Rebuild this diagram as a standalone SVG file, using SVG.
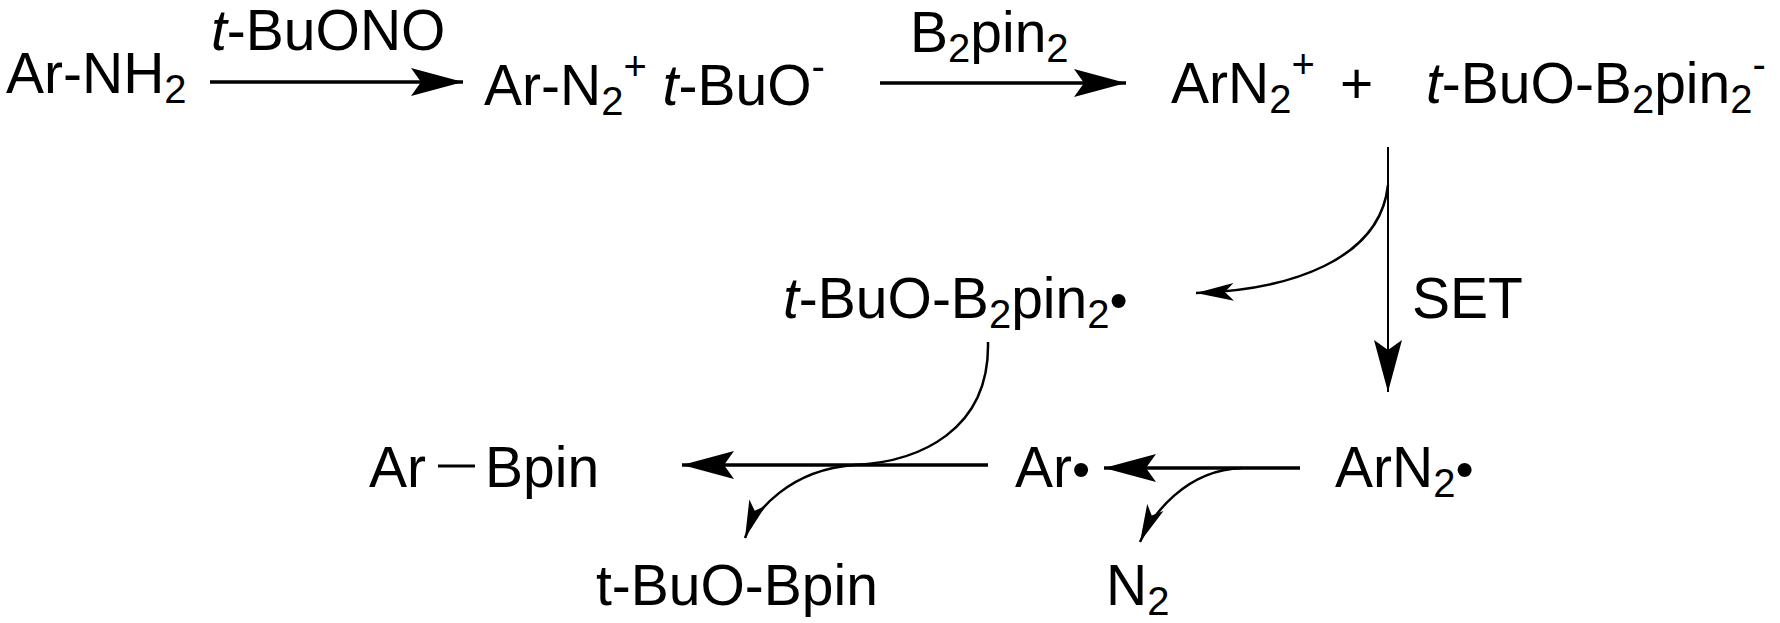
<svg xmlns="http://www.w3.org/2000/svg" width="1780" height="623" viewBox="0 0 1780 623">
<style>
text{font-family:"Liberation Sans",Arial,sans-serif;font-size:57px;fill:#000}
.s{font-size:40px}
.d{font-size:52px}
.i{font-style:italic}
.a{fill:none;stroke:#000;stroke-width:3.5}
.c{fill:none;stroke:#000;stroke-width:2.5}
</style>
<defs>
<marker id="big" markerUnits="userSpaceOnUse" markerWidth="60" markerHeight="30" viewBox="-52 -15 54 30" refX="0" refY="0" orient="auto"><path d="M0,0 L-52,-14 L-42,0 L-52,14 Z" fill="#000"/></marker>
<marker id="sm" markerUnits="userSpaceOnUse" markerWidth="40" markerHeight="20" viewBox="-34 -9 36 18" refX="0" refY="0" orient="auto"><path d="M0,0 L-34,-8 L-26,0 L-34,8 Z" fill="#000"/></marker>
</defs>
<g id="n1"><text x="6" y="93">Ar-NH<tspan class="s" dy="10">2</tspan></text></g>
<g id="n2"><text x="484" y="105">Ar-N<tspan class="s" dy="10">2</tspan><tspan class="s" dy="-35">+</tspan><tspan dy="25"> </tspan><tspan class="i">t</tspan>-BuO<tspan class="s" dy="-25">-</tspan></text></g>
<g id="n3"><text x="1171" y="103">ArN<tspan class="s" dy="10">2</tspan><tspan class="s" dy="-35">+</tspan></text></g>
<g id="n4"><text x="1340" y="103">+</text></g>
<g id="n5"><text x="1426" y="103"><tspan class="i">t</tspan>-BuO-B<tspan class="s" dy="10">2</tspan><tspan dy="-10">pin</tspan><tspan class="s" dy="10">2</tspan><tspan class="s" dy="-35">-</tspan></text></g>
<g id="n6"><text x="783" y="318"><tspan class="i">t</tspan>-BuO-B<tspan class="s" dy="10">2</tspan><tspan dy="-10">pin</tspan><tspan class="s" dy="10">2</tspan><tspan class="d" dy="-10">•</tspan></text></g>
<g id="n7"><text x="369" y="487">Ar</text><line x1="438" y1="466" x2="475" y2="466" stroke="#000" stroke-width="3"/><text x="485" y="487">Bpin</text></g>
<g id="n8"><text x="1015" y="487">Ar<tspan class="d">•</tspan></text></g>
<g id="n9"><text x="1335" y="487">ArN<tspan class="s" dy="10">2</tspan><tspan class="d" dy="-10">•</tspan></text></g>
<g id="n10"><text x="596" y="605">t-BuO-Bpin</text></g>
<g id="n11"><text x="1106" y="605">N<tspan class="s" dy="10">2</tspan></text></g>
<g id="labels">
<text x="211" y="50"><tspan class="i">t</tspan>-BuONO</text>
<text x="910" y="52">B<tspan class="s" dy="10">2</tspan><tspan dy="-10">pin</tspan><tspan class="s" dy="10">2</tspan></text>
<text x="1412" y="318">SET</text>
</g>
<g id="connectors">
<line class="a" x1="210" y1="82" x2="463" y2="82" marker-end="url(#big)"/>
<line class="a" x1="880" y1="83" x2="1126" y2="83" marker-end="url(#big)"/>
<line x1="1388" y1="147" x2="1388" y2="392" stroke="#000" stroke-width="2" marker-end="url(#big)"/>
<path class="c" d="M1388,185 C1380,260 1290,290 1196,293" marker-end="url(#sm)"/>
<line class="a" x1="988" y1="465" x2="682" y2="465" marker-end="url(#big)"/>
<line class="a" x1="1300" y1="468" x2="1104" y2="468" marker-end="url(#big)"/>
<path class="c" d="M988,342 C990,430 920,462 854,465 C790,470 755,510 745,538" marker-end="url(#sm)"/>
<path class="c" d="M1242,468 C1185,470 1152,515 1140,542" marker-end="url(#sm)"/>
</g>
</svg>
